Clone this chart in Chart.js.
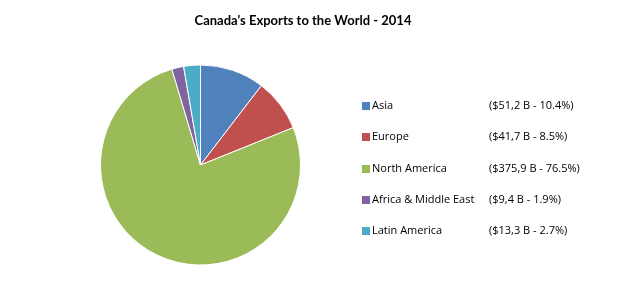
<!DOCTYPE html>
<html>
<head>
<meta charset="utf-8">
<title>Canada's Exports to the World - 2014</title>
<script src="https://cdn.jsdelivr.net/npm/chart.js@4"></script>
<style>
  html, body { margin: 0; padding: 0; background: #fff; }
  canvas { display: block; }
</style>
</head>
<body>
<canvas id="exportsChart" width="629" height="302"></canvas>
<script>
// ---------------- DATA ----------------
const regions = ['Asia', 'Europe', 'North America', 'Africa & Middle East', 'Latin America'];
// exports in billions of dollars
const exportValues = [51.2, 41.7, 375.9, 9.4, 13.3];
const regionColors = ['#4F81BD', '#C0504D', '#9BBB59', '#8064A2', '#4BACC6'];
const chartTitle = "Canada's Exports to the World - 2014";

const total = exportValues.reduce((a, b) => a + b, 0);

// text like ($51,2 B - 10.4%)
function valueText(v) {
    const pct = (v / total * 100).toFixed(1);
    return '($' + v.toFixed(1).replace('.', ',') + ' B - ' + pct + '%)';
}

// draws the title and the two-column legend like the excel chart
const excelText = {
    id: 'excelText',
    afterDraw(chart) {
        const ctx = chart.ctx;
        ctx.save();
        ctx.fillStyle = '#000';
        ctx.textBaseline = 'middle';

        ctx.font = 'bold 13px Lato';
        ctx.textAlign = 'center';
        ctx.fillText(chartTitle, 303, 21);

        ctx.font = '11px "Open Sans"';
        ctx.textAlign = 'left';
        regions.forEach((name, i) => {
            const y = 106 + i * 31.25;
            ctx.fillStyle = regionColors[i];
            ctx.fillRect(362, Math.round(y) - 4, 8, 8);
            ctx.fillStyle = '#000';
            ctx.fillText(name, 372, y);
            ctx.fillText(valueText(exportValues[i]), 489, y);
        });
        ctx.restore();
    }
};

const ctx = document.getElementById('exportsChart');

new Chart(ctx, {
    type: 'pie',
    data: {
        labels: regions,
        datasets: [{
            label: 'Exports',
            data: exportValues,
            backgroundColor: regionColors,
            borderColor: '#fff',
            borderWidth: 1
        }]
    },
    options: {
        responsive: false,
        animation: false,
        // keeps the pie on the left side, centered near (200,165)
        layout: {
            padding: { left: 100, right: 328, top: 64, bottom: 36 }
        },
        plugins: {
            legend: { display: false },
            title: { display: false },
            tooltip: { enabled: false }
        }
    },
    plugins: [excelText]
});
</script>
</body>
</html>
